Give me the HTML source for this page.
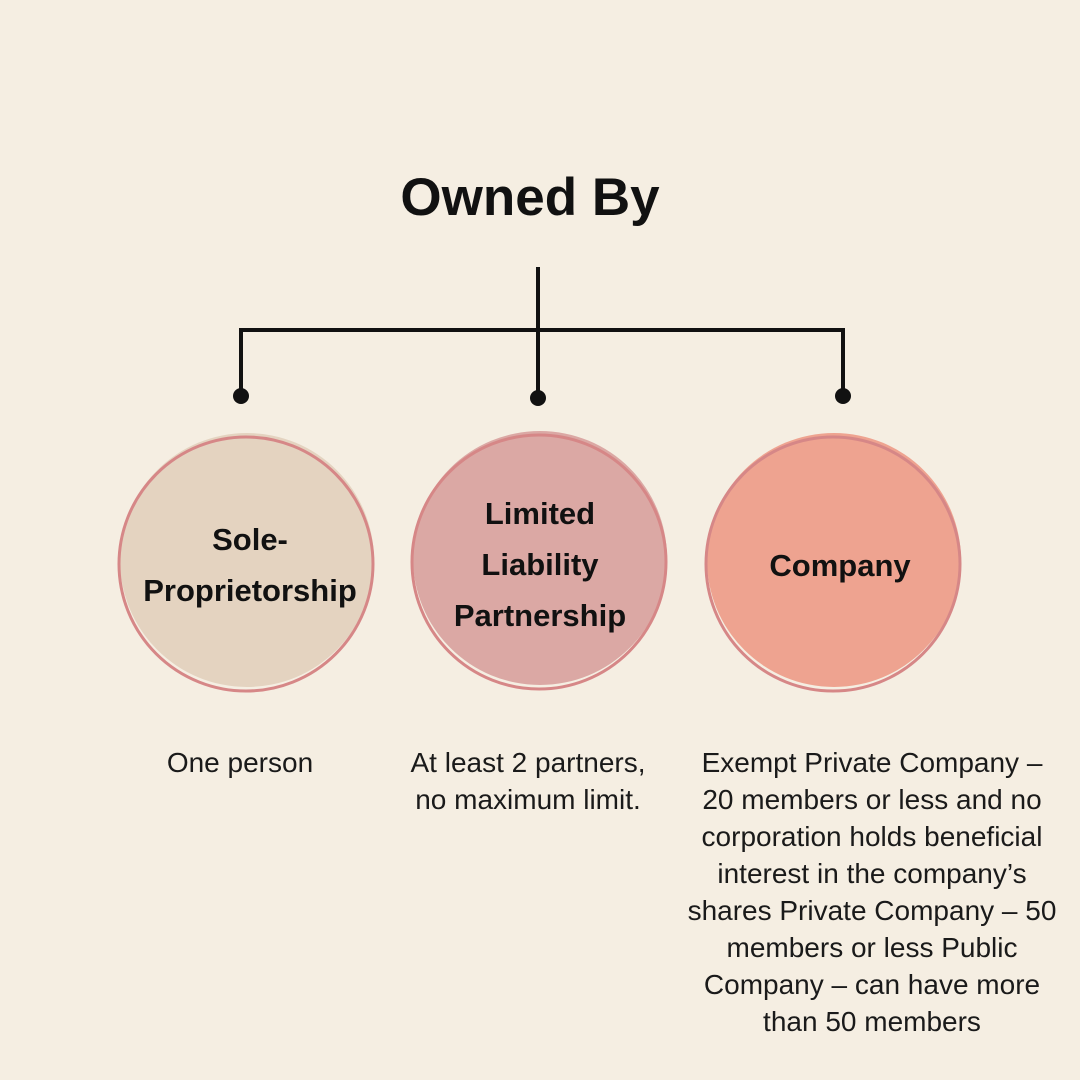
<!DOCTYPE html>
<html><head><style>
body{margin:0;width:1080px;height:1080px;background:#f5eee2;font-family:"Liberation Sans",sans-serif;position:relative;overflow:hidden}
.t{position:absolute;text-align:center;color:#111}
.h{font-weight:bold}
.d{font-size:28px;line-height:37px;color:#1a1a1a;white-space:nowrap}
</style></head><body>
<svg width="1080" height="1080" style="position:absolute;left:0;top:0">
<g stroke="#111" stroke-width="4" fill="none">
<line x1="538" y1="267" x2="538" y2="396"/>
<polyline points="241,396 241,330 843,330 843,396"/>
</g>
<g fill="#111"><circle cx="241" cy="396" r="8"/><circle cx="538" cy="398" r="8"/><circle cx="843" cy="396" r="8"/></g>
<circle cx="247" cy="560" r="127" fill="#e4d3c0"/>
<circle cx="246" cy="564" r="127" fill="none" stroke="#d68787" stroke-width="3"/>
<circle cx="540" cy="558" r="127" fill="#dba8a4"/>
<circle cx="539" cy="562" r="127" fill="none" stroke="#d68787" stroke-width="3"/>
<circle cx="834" cy="560" r="127" fill="#eea390"/>
<circle cx="833" cy="564" r="127" fill="none" stroke="#d68787" stroke-width="3"/>
</svg>
<div class="t h" style="left:330px;top:165px;width:400px;font-size:53px;line-height:66px">Owned By</div>
<div class="t h" style="left:110px;top:514px;width:280px;font-size:31px;line-height:51px">Sole-<br>Proprietorship</div>
<div class="t h" style="left:400px;top:488px;width:280px;font-size:31px;line-height:51px">Limited<br>Liability<br>Partnership</div>
<div class="t h" style="left:700px;top:540px;width:280px;font-size:31px;line-height:51px">Company</div>
<div class="t d" style="left:90px;top:744px;width:300px">One person</div>
<div class="t d" style="left:378px;top:744px;width:300px">At least 2 partners,<br>no maximum limit.</div>
<div class="t d" style="left:674px;top:744px;width:396px">Exempt Private Company –<br>20 members or less and no<br>corporation holds beneficial<br>interest in the company’s<br>shares Private Company – 50<br>members or less Public<br>Company – can have more<br>than 50 members</div>
</body></html>
